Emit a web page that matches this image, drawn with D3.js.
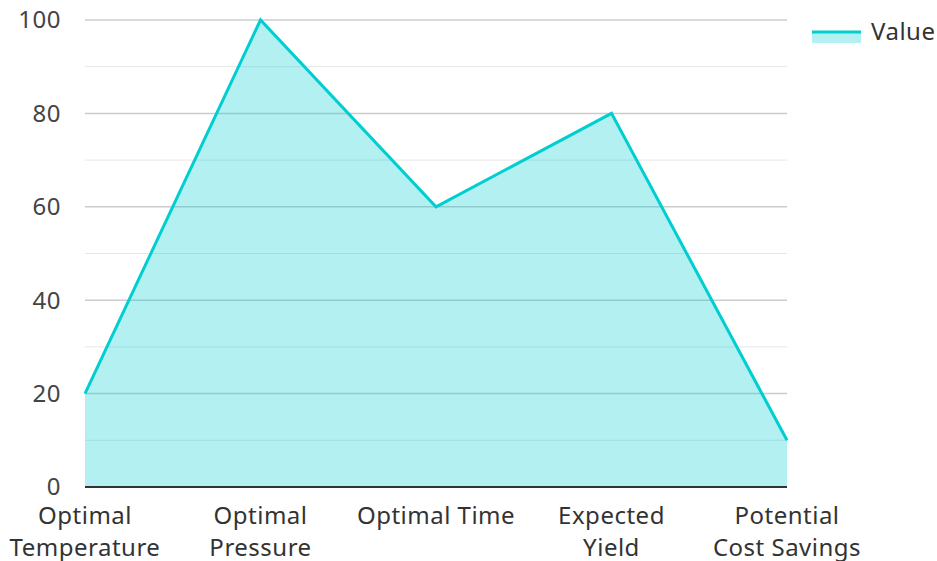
<!DOCTYPE html>
<html>
<head>
<meta charset="utf-8">
<script src="https://cdn.jsdelivr.net/npm/d3@7/dist/d3.min.js"></script>
<style>
  html, body { margin: 0; padding: 0; background: #fff; }
  svg { display: block; font-family: "Noto Sans", "Open Sans", sans-serif; }
  text { letter-spacing: 0.5px; }
</style>
</head>
<body>
<svg id="chart" width="937" height="561"></svg>
<script>
// Process optimisation summary
const categories = ["Optimal Temperature", "Optimal Pressure", "Optimal Time", "Expected Yield", "Potential Cost Savings"];
const categoryLines = [["Optimal", "Temperature"], ["Optimal", "Pressure"], ["Optimal Time"], ["Expected", "Yield"], ["Potential", "Cost Savings"]];
const values = [20, 100, 60, 80, 10];
const yTicks = [0, 20, 40, 60, 80, 100];
const yMinorTicks = [10, 30, 50, 70, 90];
const seriesName = "Value";

const color = "#00ced1";
const svg = d3.select("#chart");
const margin = { left: 85, right: 150, top: 20, bottom: 74 };
const W = 937, H = 561;

const x = d3.scalePoint().domain(categories).range([margin.left, W - margin.right]);
const y = d3.scaleLinear().domain([0, 100]).range([H - margin.bottom, margin.top]);

// grid lines
svg.append("g").selectAll("line.minor").data(yMinorTicks).join("line")
  .attr("x1", margin.left).attr("x2", W - margin.right)
  .attr("y1", d => y(d)).attr("y2", d => y(d))
  .attr("stroke", "#e6e6e6").attr("stroke-width", 1);
svg.append("g").selectAll("line.major").data(yTicks.filter(d => d > 0)).join("line")
  .attr("x1", margin.left).attr("x2", W - margin.right)
  .attr("y1", d => y(d)).attr("y2", d => y(d))
  .attr("stroke", "#cccccc").attr("stroke-width", 1.5);

const data = categories.map((c, i) => ({ c, v: values[i] }));

// area + line
svg.append("path").datum(data)
  .attr("d", d3.area().x(d => x(d.c)).y0(y(0)).y1(d => y(d.v)))
  .attr("fill", color).attr("fill-opacity", 0.3);
svg.append("path").datum(data)
  .attr("d", d3.line().x(d => x(d.c)).y(d => y(d.v)))
  .attr("fill", "none").attr("stroke", color).attr("stroke-width", 3)
  .attr("stroke-linejoin", "miter");

// baseline axis
svg.append("line")
  .attr("x1", margin.left).attr("x2", W - margin.right)
  .attr("y1", y(0)).attr("y2", y(0))
  .attr("stroke", "#333").attr("stroke-width", 2);

// y tick labels
svg.append("g").selectAll("text").data(yTicks).join("text")
  .attr("x", margin.left - 24).attr("y", d => y(d))
  .attr("dy", "0.35em").attr("text-anchor", "end")
  .attr("font-size", 24).attr("fill", "#444")
  .text(d => d);

// x category labels
const xl = svg.append("g").selectAll("text").data(categories).join("text")
  .attr("text-anchor", "middle").attr("font-size", 24).attr("fill", "#333");
xl.each(function(c, i) {
  const t = d3.select(this);
  categoryLines[i].forEach((line, j) => {
    t.append("tspan").attr("x", x(c)).attr("y", 524 + j * 32).text(line);
  });
});

// legend
const lg = svg.append("g");
lg.append("rect").attr("x", 812).attr("y", 31).attr("width", 49).attr("height", 12)
  .attr("fill", color).attr("fill-opacity", 0.3);
lg.append("line").attr("x1", 812).attr("x2", 861).attr("y1", 32).attr("y2", 32)
  .attr("stroke", color).attr("stroke-width", 3);
lg.append("text").attr("x", 871).attr("y", 32).attr("dy", "0.35em")
  .attr("font-size", 24).attr("fill", "#333").text(seriesName);
</script>
</body>
</html>
